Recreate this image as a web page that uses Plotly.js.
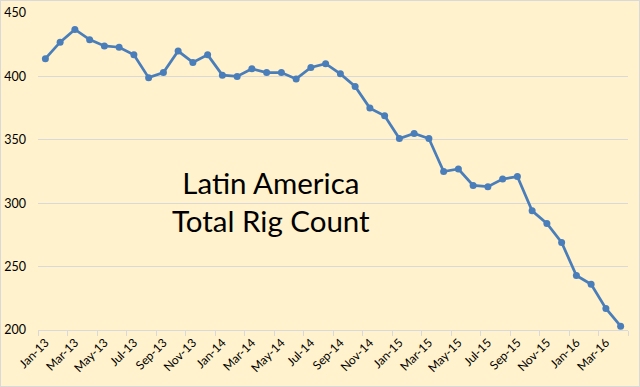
<!DOCTYPE html>
<html>
<head>
<meta charset="utf-8">
<script src="https://cdn.plot.ly/plotly-3.0.1.min.js"></script>
<style>
  html, body { margin: 0; padding: 0; background: #FFF2CC; }
  #wrap { width: 638px; height: 385px; border: 1px solid #D9D9D9; background: #FFF2CC; }
  #chart { width: 638px; height: 385px; }
</style>
</head>
<body>
<div id="wrap"><div id="chart"></div></div>
<script>
const months = [
  "Jan-13","Feb-13","Mar-13","Apr-13","May-13","Jun-13","Jul-13","Aug-13","Sep-13","Oct-13","Nov-13","Dec-13",
  "Jan-14","Feb-14","Mar-14","Apr-14","May-14","Jun-14","Jul-14","Aug-14","Sep-14","Oct-14","Nov-14","Dec-14",
  "Jan-15","Feb-15","Mar-15","Apr-15","May-15","Jun-15","Jul-15","Aug-15","Sep-15","Oct-15","Nov-15","Dec-15",
  "Jan-16","Feb-16","Mar-16","Apr-16"
];
const rigCount = [
  414, 427, 437, 429, 424, 423, 417, 399, 403, 420, 411, 417,
  401, 400, 406, 403, 403, 398, 407, 410, 402, 392, 375, 369,
  351, 355, 351, 325, 327, 314, 313, 319, 321, 294, 284, 269,
  243, 236, 217, 203
];
const titleLines = ["Latin America", "Total Rig Count"];
const yTicks = [200, 250, 300, 350, 400, 450];

const trace = {
  x: months,
  y: rigCount,
  type: "scatter",
  mode: "lines+markers",
  line: { color: "#4A7EBB", width: 2.75 },
  marker: { color: "#4A7EBB", size: 7 },
  hoverinfo: "x+y"
};

const layout = {
  width: 638,
  height: 385,
  margin: { l: 37, r: 11, t: 12, b: 56, pad: 0 },
  paper_bgcolor: "#FFF2CC",
  plot_bgcolor: "#FFF2CC",
  showlegend: false,
  font: { family: "Lato, 'Liberation Sans', sans-serif", size: 12, color: "#000000" },
  xaxis: {
    type: "category",
    categoryorder: "array",
    categoryarray: months,
    range: [-0.5, months.length - 0.5],
    tickmode: "linear",
    tick0: 0,
    dtick: 2,
    tickson: "boundaries",
    ticks: "outside",
    ticklen: 5,
    tickcolor: "#D9D9D9",
    tickwidth: 1,
    tickangle: -45,
    showgrid: false,
    showline: true,
    linecolor: "#D9D9D9",
    linewidth: 1,
    zeroline: false,
    tickfont: { size: 12, color: "#000000" }
  },
  yaxis: {
    range: [200, 450],
    tickmode: "array",
    tickvals: yTicks,
    ticktext: yTicks.map(String),
    showgrid: true,
    gridcolor: "#D9D9D9",
    gridwidth: 1,
    showline: false,
    zeroline: false,
    ticks: "",
    ticklabelstandoff: 11,
    tickfont: { size: 12.5, color: "#000000" }
  },
  annotations: [{
    xref: "paper",
    yref: "y",
    x: 0.395,
    y: 301.5,
    text: titleLines.join("<br>"),
    showarrow: false,
    align: "center",
    xanchor: "center",
    yanchor: "middle",
    font: { family: "Lato, 'Liberation Sans', sans-serif", size: 29.5, color: "#000000" }
  }]
};

Plotly.newPlot("chart", [trace], layout, { displayModeBar: false, staticPlot: true });
</script>
</body>
</html>
